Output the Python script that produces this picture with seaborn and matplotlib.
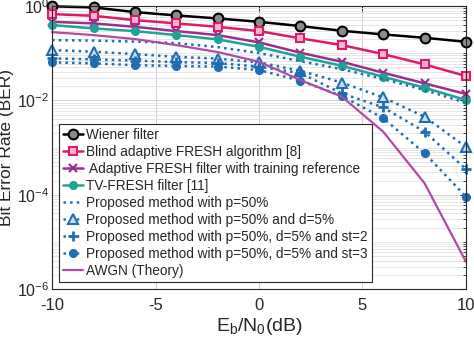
import numpy as np
import pandas as pd
import matplotlib
matplotlib.use("Agg")
import matplotlib.pyplot as plt
from matplotlib.ticker import FixedLocator, NullFormatter, FixedFormatter
import seaborn as sns

snr = [-10, -8, -6, -4, -2, 0, 2, 4, 6, 8, 10]

wiener = [0.99, 0.94, 0.746, 0.635, 0.548, 0.465, 0.377, 0.30, 0.251, 0.213, 0.175]
blind = [0.677, 0.623, 0.505, 0.43, 0.364, 0.295, 0.207, 0.149, 0.096, 0.058, 0.0329]
training = [0.465, 0.43, 0.364, 0.295, 0.243, 0.17, 0.1025, 0.066, 0.0386, 0.023, 0.0137]
tvfresh = [0.396, 0.337, 0.295, 0.243, 0.197, 0.137, 0.0843, 0.0543, 0.0318, 0.0186, 0.0102]
prop_p = [0.19, 0.186, 0.177, 0.164, 0.135, 0.101, 0.068, 0.046, 0.0284, 0.0166, 0.0089]
prop_pd = [0.117, 0.108, 0.096, 0.084, 0.077, 0.064, 0.0426, 0.0239, 0.0116, 0.0045, 0.00103]
prop_st2 = [0.078, 0.074, 0.070, 0.065, 0.062, 0.052, 0.038, 0.0141, 0.0071, 0.00217, 0.00035]
prop_st3 = [0.064, 0.061, 0.056, 0.0536, 0.0523, 0.044, 0.0261, 0.0124, 0.0042, 0.00076, 9.1e-5]
awgn = [0.281, 0.243, 0.2, 0.149, 0.106, 0.066, 0.027, 0.012, 0.00217, 1.75e-4, 3.8e-6]

labels = [
    "Wiener filter",
    "Blind adaptive FRESH algorithm [8]",
    " Adaptive FRESH filter with training reference",
    "TV-FRESH filter [11]",
    "Proposed method with p=50%",
    "Proposed method with p=50% and d=5%",
    "Proposed method with p=50%, d=5% and st=2",
    "Proposed method with p=50%, d=5% and st=3",
    "AWGN (Theory)",
]

sns.set_style("white")
plt.rcParams['font.family'] = ['Liberation Sans', 'DejaVu Sans']
plt.rcParams['mathtext.default'] = 'regular'

fig = plt.figure(figsize=(4.74, 3.40), dpi=100)
ax = fig.add_axes([0.11, 0.15, 0.873, 0.832])

blue = "#1f6db3"
pink = "#e0196a"
purple = "#9c2f8e"
teal = "#1fa396"
styles = [
    (wiener, dict(color="black", marker="o", markerfacecolor="#8c8c8c", markeredgecolor="black", markeredgewidth=1.5, markersize=7, lw=1.8, ls="-")),
    (blind, dict(color=pink, marker="s", markerfacecolor="#f7b8d0", markeredgecolor=pink, markeredgewidth=1.5, markersize=6, lw=1.8, ls="-")),
    (training, dict(color=purple, marker="x", markeredgecolor=purple, markeredgewidth=1.6, markersize=6, lw=1.8, ls="-")),
    (tvfresh, dict(color=teal, marker="o", markeredgecolor=teal, markeredgewidth=1, markersize=5.5, lw=1.8, ls="-")),
    (prop_p, dict(color=blue, marker=None, lw=1.8, ls=":")),
    (prop_pd, dict(color=blue, marker="^", markerfacecolor="#cfe0f2", markeredgecolor=blue, markeredgewidth=1.5, markersize=7, lw=1.8, ls=":")),
    (prop_st2, dict(color=blue, marker="+", markeredgecolor=blue, markeredgewidth=2, markersize=7, lw=1.8, ls=":")),
    (prop_st3, dict(color=blue, marker="o", markeredgecolor=blue, markeredgewidth=1, markersize=5.5, lw=1.8, ls=":")),
    (awgn, dict(color="#b04aa8", marker=None, lw=1.6, ls="-")),
]

for (vals, kw), lab in zip(styles, labels):
    df = pd.DataFrame({"snr": snr, "ber": vals})
    sns.lineplot(data=df, x="snr", y="ber", ax=ax, label=lab, clip_on=False, **kw)

ax.set_yscale("log")
ax.set_xlim(-10, 10)
ax.set_ylim(1e-6, 1)
ax.set_xticks([-10, -5, 0, 5, 10])
ax.set_xticklabels(["-10", "-5", "0", "5", "10"])
ax.yaxis.set_major_locator(FixedLocator([1e-6, 1e-4, 1e-2, 1]))
ax.yaxis.set_major_formatter(FixedFormatter([r"$10^{-6}$", r"$10^{-4}$", r"$10^{-2}$", r"$10^{0}$"]))
minor = []
for e in range(-6, 0):
    for m in range(1, 10):
        v = m * 10.0 ** e
        if v not in (1e-6, 1e-4, 1e-2):
            minor.append(v)
ax.yaxis.set_minor_locator(FixedLocator(minor))
ax.yaxis.set_minor_formatter(NullFormatter())

ax.grid(True, which="major", color="#d0d0d0", lw=0.7)
ax.grid(True, which="minor", axis="y", color="#e2e2e2", lw=0.6)
ax.tick_params(axis="both", which="both", direction="in", top=True, right=True, colors="#262626")
ax.tick_params(axis="x", which="major", labelsize=12, length=4, pad=6.5)
ax.tick_params(axis="y", which="major", labelsize=11.5, length=4, pad=2)
ax.tick_params(axis="both", which="minor", length=2)
for s in ax.spines.values():
    s.set_color("#262626")
    s.set_linewidth(0.8)

ax.set_xlabel(r"E$_b$/N$_0$(dB)", fontsize=14, color="#262626", labelpad=2)
ax.set_ylabel("Bit Error Rate (BER)", fontsize=12.5, color="#262626")
ax.yaxis.set_label_coords(-0.093, 0.5)

leg = ax.legend(loc="lower left", fontsize=9.8, frameon=True, fancybox=False,
                edgecolor="#262626", framealpha=1, handlelength=1.5, handletextpad=0.2,
                borderpad=0.3, labelspacing=0.22, borderaxespad=0.5)
leg.get_frame().set_linewidth(0.8)

fig.savefig("out.png", dpi=100)
